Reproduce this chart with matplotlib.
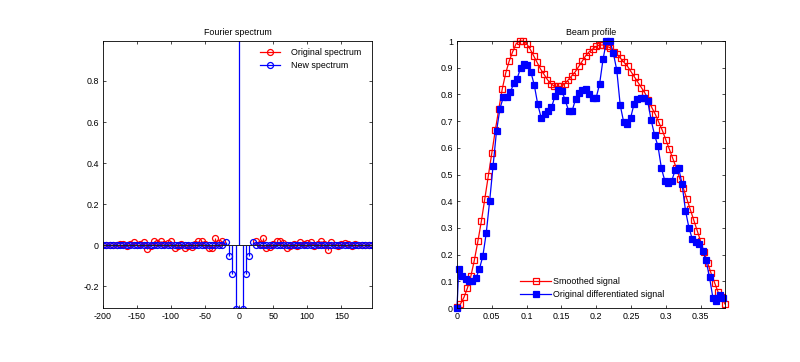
import numpy as np
import matplotlib
matplotlib.use("Agg")
import matplotlib.pyplot as plt
from matplotlib.lines import Line2D
from matplotlib.legend_handler import HandlerLine2D

plt.rcParams['font.family'] = ['Liberation Sans', 'DejaVu Sans']

# ---------------- Fourier spectrum data ----------------
freq = np.arange(-200, 200, 5)  # -200 ... 195
orig_spectrum = [
    0.0, 0.0, 0.0, 0.001, -0.002, 0.006, 0.004, -0.003, 0.003, 0.013,
    0.002, 0.003, 0.016, -0.02, -0.004, 0.02, 0.008, 0.018, 0.004, 0.01,
    0.018, -0.015, -0.006, 0.003, -0.015, -0.004, -0.01, 0.006, 0.022, 0.022,
    0.004, -0.012, -0.016, 0.032, 0.008, 0.02, 0.015, -0.055, -0.14, -0.31,
    1.0, -0.31, -0.14, -0.055, 0.015, 0.02, 0.005, 0.032, -0.016, -0.01,
    0.005, 0.022, 0.022, 0.008, -0.012, -0.005, 0.003, -0.006, 0.015, 0.004,
    0.01, 0.014, -0.004, 0.006, 0.02, 0.006, -0.022, 0.015, 0.002, -0.004,
    0.004, 0.01, 0.003, -0.003, 0.006, 0.002, -0.002, 0.001, 0.0, 0.0,
]
new_spectrum = [0.0] * 36 + [0.015, -0.055, -0.14, -0.31, 1.0, -0.31, -0.14, -0.055, 0.015] + [0.0] * 35

# ---------------- Beam profile data ----------------
smooth_x = np.linspace(0, 0.385, 78)
smoothed = [
    0.005, 0.015, 0.04, 0.075, 0.12, 0.18, 0.25, 0.325, 0.41, 0.495,
    0.58, 0.665, 0.745, 0.82, 0.88, 0.925, 0.96, 0.99, 1.0, 1.0,
    0.99, 0.97, 0.945, 0.92, 0.895, 0.875, 0.855, 0.84, 0.83, 0.83,
    0.83, 0.84, 0.855, 0.87, 0.885, 0.905, 0.925, 0.945, 0.96, 0.97,
    0.98, 0.985, 0.985, 0.98, 0.975, 0.96, 0.95, 0.935, 0.92, 0.905,
    0.885, 0.865, 0.845, 0.825, 0.805, 0.78, 0.75, 0.725, 0.695, 0.665,
    0.63, 0.595, 0.56, 0.525, 0.485, 0.45, 0.41, 0.37, 0.33, 0.29,
    0.25, 0.21, 0.17, 0.13, 0.095, 0.06, 0.04, 0.015,
]
orig_x = np.concatenate([[0.0], np.linspace(0.0025, 0.3825, 78)])
original = [
    0.0,
    0.146, 0.121, 0.108, 0.100, 0.100, 0.112, 0.146, 0.193, 0.280, 0.401,
    0.533, 0.663, 0.747, 0.791, 0.791, 0.808, 0.841, 0.859, 0.899, 0.915,
    0.909, 0.884, 0.834, 0.763, 0.712, 0.726, 0.738, 0.751, 0.793, 0.818,
    0.813, 0.778, 0.738, 0.738, 0.782, 0.807, 0.815, 0.822, 0.803, 0.785,
    0.787, 0.839, 0.931, 1.0, 1.0, 0.955, 0.891, 0.760, 0.697, 0.691,
    0.710, 0.763, 0.782, 0.787, 0.787, 0.775, 0.704, 0.648, 0.606, 0.523,
    0.476, 0.467, 0.476, 0.517, 0.526, 0.465, 0.365, 0.301, 0.258, 0.247,
    0.239, 0.214, 0.178, 0.115, 0.037, 0.025, 0.050, 0.037,
]

fs = 6.4
LW = 0.9
MS = 4.3
fig = plt.figure(figsize=(8.0, 3.62), dpi=100)

W, H = 800.0, 362.0
ax1 = fig.add_axes([103 / W, 1 - 308 / H, 269 / W, 267 / H])
ax2 = fig.add_axes([457 / W, 1 - 308 / H, 268 / W, 267 / H])

YTOP = 0.995

# ---- left: stems ----
def draw_stem(ax, vals, color, hidden=()):
    ml, sl, bl = ax.stem(freq, vals, linefmt='-', markerfmt='o', basefmt='-')
    # stems fully covered by the other series are left transparent
    sl.set_colors([(0, 0, 0, 0) if i in hidden else color for i in range(len(vals))])
    sl.set_linewidth(LW)
    ml.set_color(color); ml.set_markerfacecolor('none')
    ml.set_markersize(MS); ml.set_markeredgewidth(LW)
    ml.set_markevery([i for i, v in enumerate(vals) if v <= YTOP and i not in hidden])
    bl.set_color('#222222'); bl.set_linewidth(0.7)

covered = {i for i, v in enumerate(new_spectrum) if v != 0}
draw_stem(ax1, orig_spectrum, (1, 0, 0), hidden=covered)
draw_stem(ax1, new_spectrum, (0, 0, 1))

ax1.set_xlim(-200, 195)
ax1.set_ylim(-0.307, YTOP)
ax1.set_xticks([-200, -150, -100, -50, 0, 50, 100, 150])
ax1.set_xticklabels(['-200', '-150', '-100', '-50', '0', '50', '100', '150'])
ax1.set_yticks([-0.2, 0, 0.2, 0.4, 0.6, 0.8])
ax1.set_yticklabels(['-0.2', '0', '0.2', '0.4', '0.6', '0.8'])
ax1.set_title('Fourier spectrum', fontsize=fs, pad=4)


class EndMarkerHandler(HandlerLine2D):
    def get_xdata(self, legend, xdescent, ydescent, width, height, fontsize):
        xdata = np.array([-xdescent, -xdescent + width])
        return xdata, np.array([-xdescent + width])


h1 = Line2D([], [], color='r', lw=LW, marker='o', mfc='none', ms=MS, mew=LW)
h2 = Line2D([], [], color='b', lw=LW, marker='o', mfc='none', ms=MS, mew=LW)
fig.legend([h1, h2], ['Original spectrum', 'New spectrum'],
           loc='upper left', bbox_to_anchor=(260 / W, 1 - 48 / H),
           bbox_transform=fig.transFigure, frameon=False, fontsize=fs,
           handlelength=2.3, handletextpad=1.2, labelspacing=0.45, borderpad=0,
           borderaxespad=0, handler_map={h1: EndMarkerHandler(), h2: EndMarkerHandler()})

# ---- right: profiles ----
ax2.plot(smooth_x, smoothed, color='r', lw=LW, marker='s', mfc='none', ms=MS,
         mew=LW, clip_on=False, label='Smoothed signal')
ax2.plot(orig_x, original, color='b', lw=LW, marker='s', mfc='b', ms=MS,
         mew=LW, clip_on=False, label='Original differentiated signal')
ax2.set_xlim(0, 0.385)
ax2.set_ylim(0, 1)
ax2.set_xticks([0, 0.05, 0.1, 0.15, 0.2, 0.25, 0.3, 0.35])
ax2.set_xticklabels(['0', '0.05', '0.1', '0.15', '0.2', '0.25', '0.3', '0.35'])
ax2.set_yticks(np.round(np.arange(0, 1.01, 0.1), 1))
ax2.set_yticklabels(['0', '0.1', '0.2', '0.3', '0.4', '0.5', '0.6', '0.7', '0.8', '0.9', '1'])
ax2.set_title('Beam profile', fontsize=fs, pad=4)
fig.legend(*ax2.get_legend_handles_labels(),
           loc='upper left', bbox_to_anchor=(520 / W, 1 - 277 / H),
           bbox_transform=fig.transFigure, frameon=False, fontsize=fs,
           handlelength=3.5, handletextpad=0.2, labelspacing=0.45, borderpad=0,
           borderaxespad=0)

for ax in (ax1, ax2):
    ax.tick_params(direction='in', top=True, right=True, length=2.5, width=0.5,
                   labelsize=fs, pad=3)
    for s in ax.spines.values():
        s.set_linewidth(0.6)

fig.savefig('out.png', dpi=100)
